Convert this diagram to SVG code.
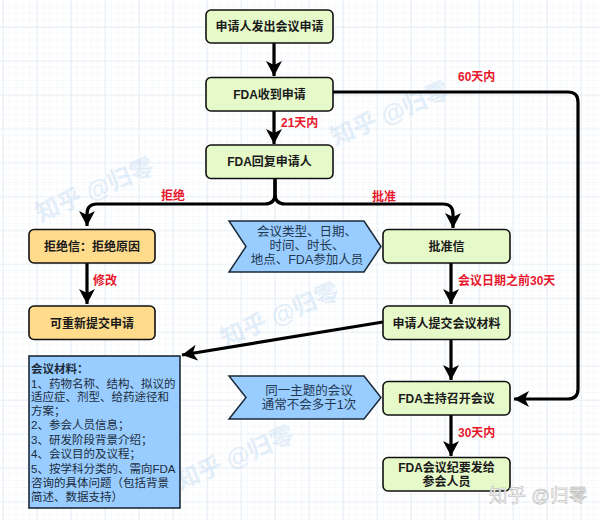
<svg xmlns="http://www.w3.org/2000/svg" width="600" height="520" viewBox="0 0 600 520">
<style>
text{font-family:"Liberation Sans","Noto Sans CJK SC",sans-serif}
.n{stroke:#111;stroke-width:1.6}
.g{fill:#e6f9c8}
.o{fill:#ffdc8c}
.b{fill:#99ccff;stroke:#1a2a3a;stroke-width:1.5}
.t{font-size:12px;font-weight:700;fill:#1a1a1a;text-anchor:middle}
.s{font-size:12.500px;fill:#22384f;text-anchor:middle}
.m{font-size:11.500px;fill:#1c2c3c}
.r{font-size:12px;font-weight:700;fill:#e8182c}
.c{fill:none;stroke:#000;stroke-width:3.2}
.w{font-size:24px;font-weight:700;fill:#a9cdf0;opacity:.3}
.w2{font-size:18.500px;fill:#fff;stroke:#b0b0b0;stroke-width:.5}
</style>
<defs>
<pattern id="f" x="3" y="27" width="6.8" height="6.78" patternUnits="userSpaceOnUse"><path d="M6.8 0V6.78H0" fill="none" stroke="#eef3f7" stroke-width="1"/></pattern>
<pattern id="M" x="3" y="27" width="34" height="33.9" patternUnits="userSpaceOnUse"><path d="M0 33.9V0H34" fill="none" stroke="#dbe6f1" stroke-width="1"/></pattern>
<marker id="a" markerUnits="userSpaceOnUse" markerWidth="16" markerHeight="18" refX="15" refY="8" orient="auto"><path d="M0 0L15 8L0 16L4 8Z" fill="#000"/></marker>
</defs>
<rect width="600" height="520" fill="#fff"/>
<rect width="600" height="520" fill="url(#f)"/>
<rect width="600" height="520" fill="url(#M)"/>
<g id="watermarks">
<text class="w" transform="translate(40 222) rotate(-23)">知乎 @归零</text>
<text class="w" transform="translate(335 146) rotate(-23)">知乎 @归零</text>
<text class="w" transform="translate(225 347) rotate(-23)">知乎 @归零</text>
<text class="w" transform="translate(180 490) rotate(-23)">知乎 @归零</text>
</g>
<g id="connectors">
<path class="c" marker-end="url(#a)" d="M274 43V76"/>
<path class="c" marker-end="url(#a)" d="M274 111V144"/>
<path class="c" marker-end="url(#a)" d="M275 178V194Q275 204 265 204H97Q87 204 87 214V226"/>
<path class="c" marker-end="url(#a)" d="M275 178V194Q275 204 285 204H443Q453 204 453 214V228"/>
<path class="c" marker-end="url(#a)" d="M87 263V304"/>
<path class="c" marker-end="url(#a)" d="M451 263V304"/>
<path class="c" marker-end="url(#a)" d="M451 339V380"/>
<path class="c" marker-end="url(#a)" d="M451 415V456"/>
<path class="c" marker-end="url(#a)" d="M383 322L182 355"/>
<path class="c" marker-end="url(#a)" d="M333 92H568Q578 92 578 102V389Q578 399 568 399H514"/>
</g>
<g id="n1"><rect class="n g" x="206" y="10" width="127" height="33" rx="5"/><text class="t" x="269.500" y="31">申请人发出会议申请</text></g>
<g id="n2"><rect class="n g" x="206" y="77.500" width="127" height="33.500" rx="5"/><text class="t" x="269.500" y="98.500">FDA收到申请</text></g>
<g id="n3"><rect class="n g" x="206" y="145" width="127" height="33.500" rx="5"/><text class="t" x="269.500" y="166">FDA回复申请人</text></g>
<g id="n4"><rect class="n o" x="29" y="229.500" width="126" height="33.500" rx="5"/><text class="t" x="92" y="251">拒绝信：拒绝原因</text></g>
<g id="n5"><rect class="n o" x="29" y="306" width="126" height="33.500" rx="5"/><text class="t" x="92" y="327.500">可重新提交申请</text></g>
<g id="n6"><path class="b" d="M229 221H364L381 246.500L364 272H229L246 246.500Z"/><text class="s" x="307" y="236">会议类型、日期、</text><text class="s" x="307" y="250">时间、时长、</text><text class="s" x="307" y="264">地点、FDA参加人员</text></g>
<g id="n7"><rect class="n g" x="383" y="229.500" width="127" height="33.500" rx="5"/><text class="t" x="446.500" y="251">批准信</text></g>
<g id="n8"><rect class="n g" x="383" y="306" width="127" height="33.500" rx="5"/><text class="t" x="446.500" y="327.500">申请人提交会议材料</text></g>
<g id="n9"><path class="b" d="M229 376H364L381 397.500L364 419H229L246 397.500Z"/><text class="s" x="309" y="395">同一主题的会议</text><text class="s" x="309" y="409">通常不会多于1次</text></g>
<g id="n10"><rect class="n g" x="383" y="381.500" width="127" height="33.500" rx="5"/><text class="t" x="446.500" y="403">FDA主持召开会议</text></g>
<g id="n11"><rect class="n g" x="383" y="457.500" width="127" height="33.500" rx="5"/><text class="t" x="446.500" y="471.500">FDA会议纪要发给</text><text class="t" x="446.500" y="486">参会人员</text></g>
<g id="n12"><rect x="29" y="356" width="151" height="152" fill="#99ccff" stroke="#1a2a3a" stroke-width="1.6"/>
<text class="m" x="31" y="373" font-weight="700" fill="#111">会议材料：</text>
<text class="m" x="31" y="388">1、药物名称、结构、拟议的</text>
<text class="m" x="31" y="401">适应症、剂型、给药途径和</text>
<text class="m" x="31" y="415">方案；</text>
<text class="m" x="31" y="429">2、参会人员信息；</text>
<text class="m" x="31" y="444">3、研发阶段背景介绍；</text>
<text class="m" x="31" y="458">4、会议目的及议程；</text>
<text class="m" x="31" y="473">5、按学科分类的、需向FDA</text>
<text class="m" x="31" y="487">咨询的具体问题（包括背景</text>
<text class="m" x="31" y="501">简述、数据支持）</text></g>
<g id="labels">
<text class="r" x="281" y="127">21天内</text>
<text class="r" x="458" y="81">60天内</text>
<text class="r" x="161" y="200">拒绝</text>
<text class="r" x="372" y="201">批准</text>
<text class="r" x="93" y="285">修改</text>
<text class="r" x="458" y="285">会议日期之前30天</text>
<text class="r" x="458" y="437">30天内</text>
</g>
<text class="w2" x="489" y="502">知乎 @归零</text>
</svg>
